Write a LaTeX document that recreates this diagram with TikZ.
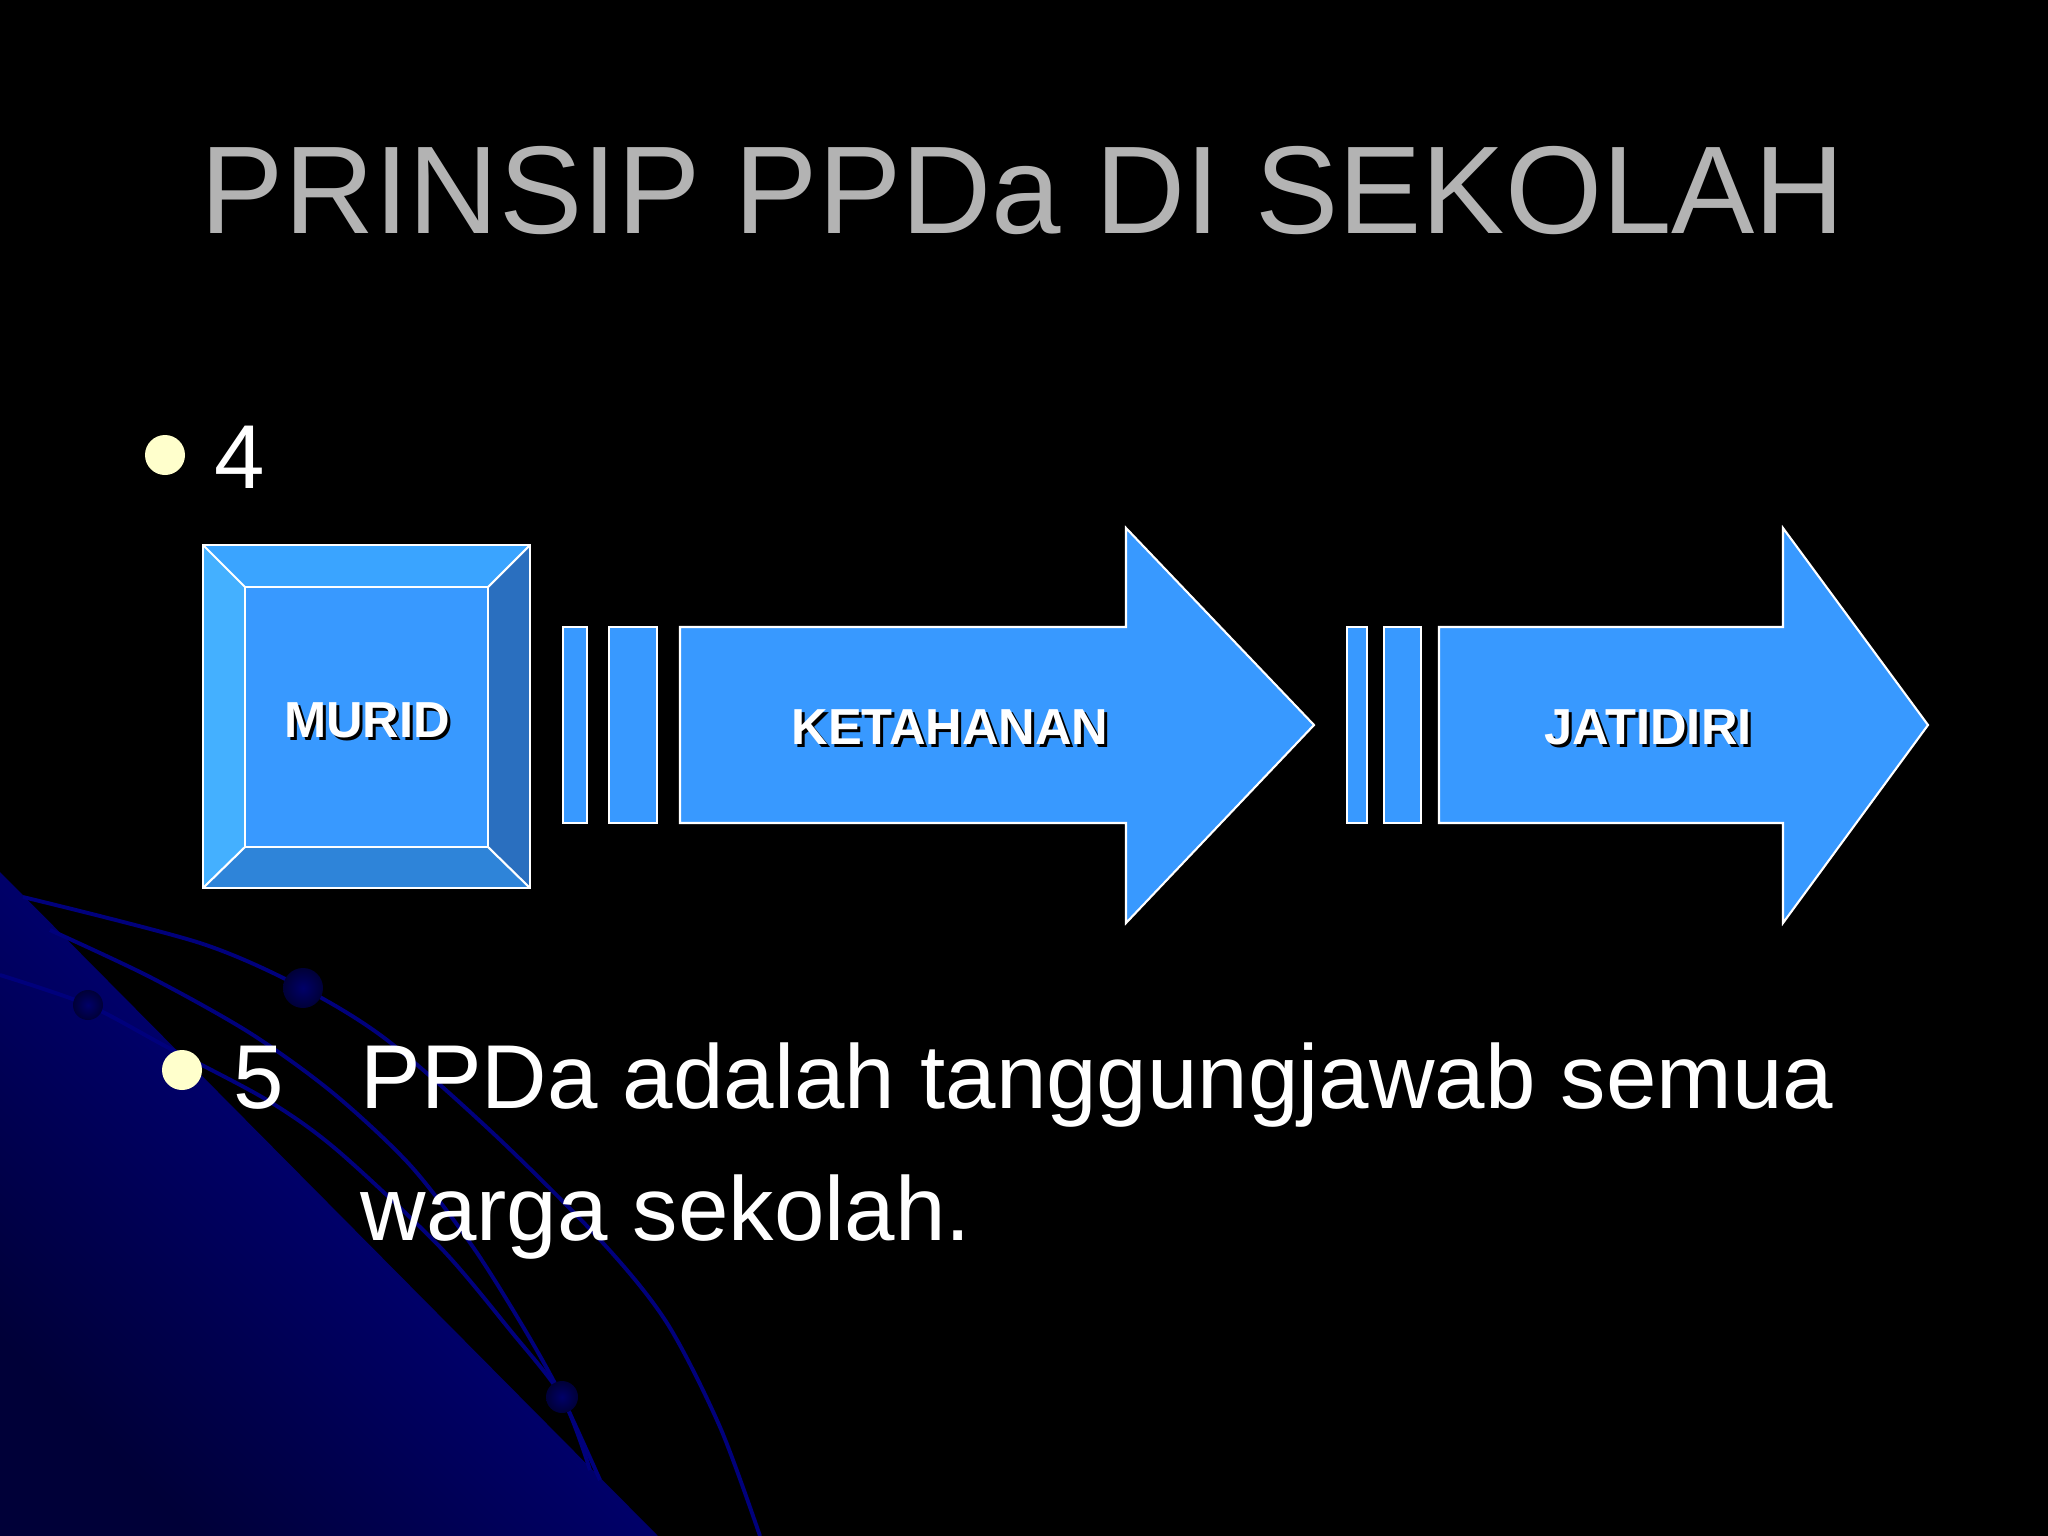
\documentclass[tikz,border=0pt]{standalone}
\usepackage{fontspec}
\setmainfont{Liberation Sans}
\usepackage{xcolor}
\definecolor{skyfill}{HTML}{3899FF}
\definecolor{bevtop}{HTML}{3AA4FF}
\definecolor{bevleft}{HTML}{44B0FF}
\definecolor{bevright}{HTML}{2A6FBF}
\definecolor{bevbottom}{HTML}{2E84D9}
\definecolor{titlegray}{HTML}{B3B3B3}
\definecolor{bulletcream}{HTML}{FFFFCC}
\definecolor{navybright}{HTML}{00009A}
\definecolor{navydark}{HTML}{000038}
\definecolor{orbitblue}{HTML}{00007C}

\newcommand{\shadowlabel}[3]{%
  \node[lblshadow, xshift=0.85pt, yshift=-0.85pt] at (#2) {#3};
  \node[lbl] (#1) at (#2) {#3};}

\begin{document}
\begin{tikzpicture}[x=0.01cm, y=-0.01cm,
    shapebox/.style={fill=skyfill, draw=white, line width=0.6pt},
    bevel/.style={draw=white, line width=0.6pt},
    lbl/.style={text=white, font=\fontsize{14.4}{16}\selectfont\bfseries, inner sep=0pt},
    lblshadow/.style={text=black, font=\fontsize{14.4}{16}\selectfont\bfseries, inner sep=0pt},
    bodytext/.style={text=white, font=\fontsize{25.8}{30}\selectfont, inner sep=0pt, anchor=base west},
    bulletdot/.style={fill=bulletcream, draw=none},
    orbit/.style={draw=orbitblue, line width=1.1pt},
    planet/.style={inner color={rgb,255:red,0;green,0;blue,105}, outer color={rgb,255:red,0;green,0;blue,55}}]

  % background
  \fill[black] (0,0) rectangle (2048,1536);
  \useasboundingbox (0,0) rectangle (2048,1536);
  \shade[bottom color=navydark, middle color=navybright, top color=navybright, shading angle=-45]
    (0,872) -- (658,1536) -- (0,1536) -- cycle;

  % orbits
  \draw[orbit] plot[smooth] coordinates {(23,897) (200,943) (303,988) (387,1040) (495,1135) (603,1243) (667,1323) (720,1427) (760,1536)};
  \draw[orbit] plot[smooth] coordinates {(50,930) (150,977) (250,1033) (333,1093) (410,1165) (473,1247) (525,1330) (562,1397) (600,1480)};
  \draw[orbit] plot[smooth] coordinates {(0,975) (88,1005) (167,1047) (267,1100) (337,1150) (440,1247) (510,1330) (562,1397) (590,1470)};
  \shade[planet] (303,988) circle (20);
  \shade[planet] (88,1005) circle (15);
  \shade[planet] (562,1397) circle (16);

  % title
  \node[text=titlegray, font=\fontsize{35.5}{40}\selectfont, inner sep=0pt, anchor=base] (title) at (1023,233) {PRINSIP PPDa DI SEKOLAH};

  % point 4
  \fill[bulletdot] (165,455) circle (20);
  \node[bodytext] (four) at (214,488) {4};

  % murid box
  \fill[bevtop] (203,545) -- (530,545) -- (488,587) -- (245,587) -- cycle;
  \fill[bevleft] (203,545) -- (245,587) -- (245,847) -- (203,888) -- cycle;
  \fill[bevright] (530,545) -- (530,888) -- (488,847) -- (488,587) -- cycle;
  \fill[bevbottom] (203,888) -- (530,888) -- (488,847) -- (245,847) -- cycle;
  \fill[skyfill] (245,587) rectangle (488,847);
  \draw[bevel] (203,545) rectangle (530,888);
  \draw[bevel] (245,587) rectangle (488,847);
  \draw[bevel] (203,545) -- (245,587) (530,545) -- (488,587)
               (203,888) -- (245,847) (530,888) -- (488,847);
  \shadowlabel{murid}{367,720}{MURID}

  % first arrow
  \draw[shapebox] (563,627) rectangle (587,823);
  \draw[shapebox] (609,627) rectangle (657,823);
  \draw[shapebox] (680,627) -- (1126,627) -- (1126,528) -- (1314,725)
                  -- (1126,923) -- (1126,823) -- (680,823) -- cycle;
  \shadowlabel{ketahanan}{950,727}{KETAHANAN}

  % second arrow
  \draw[shapebox] (1347,627) rectangle (1367,823);
  \draw[shapebox] (1384,627) rectangle (1421,823);
  \draw[shapebox] (1439,627) -- (1783,627) -- (1783,528) -- (1928,725)
                  -- (1783,923) -- (1783,823) -- (1439,823) -- cycle;
  \shadowlabel{jatidiri}{1648,727}{JATIDIRI}

  % point 5
  \fill[bulletdot] (182,1070) circle (20);
  \node[bodytext] (five) at (233,1108) {5};
  \node[bodytext] (lineone) at (360,1108) {PPDa adalah tanggungjawab semua};
  \node[bodytext] (linetwo) at (360,1240) {warga sekolah.};
\end{tikzpicture}
\end{document}
